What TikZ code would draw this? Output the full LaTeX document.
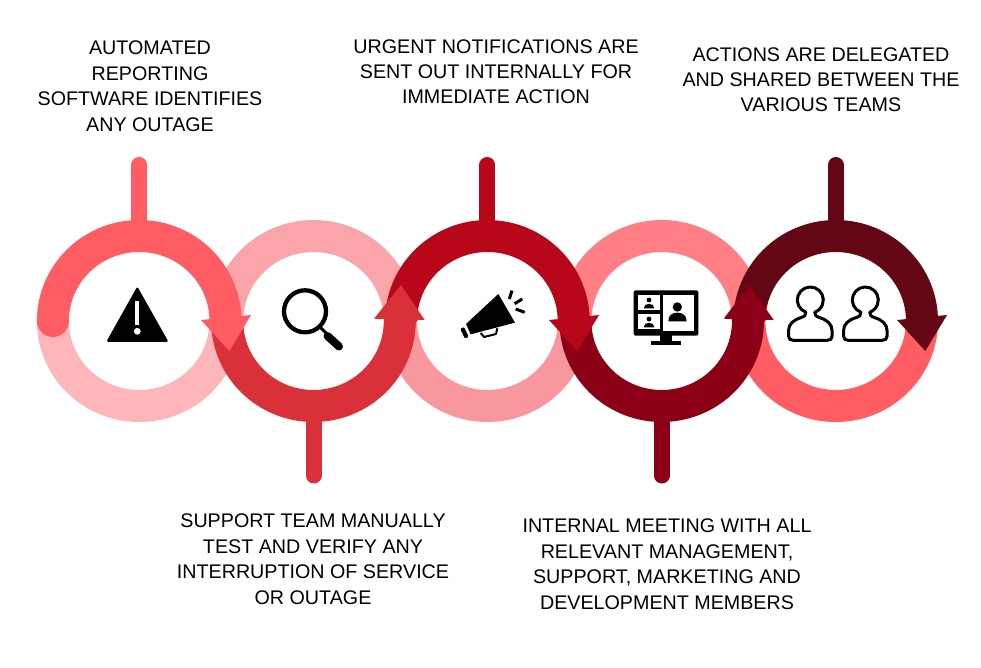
\documentclass[tikz,border=0pt]{standalone}
\usepackage{fontspec}
\setmainfont{Liberation Sans}
\definecolor{aOne}{HTML}{FF5C64}
\definecolor{aTwo}{HTML}{DA303A}
\definecolor{aThree}{HTML}{B9071A}
\definecolor{aFour}{HTML}{8B0015}
\definecolor{aFive}{HTML}{620713}
\definecolor{lOne}{HTML}{FFB6BB}
\definecolor{lTwo}{HTML}{F9A5AA}
\definecolor{lThree}{HTML}{F9979E}
\definecolor{lFour}{HTML}{FF7F85}
\definecolor{lFive}{HTML}{FF5C64}
\tikzset{
  ringarc/.style={line width=32pt,line cap=butt},
  stem/.style={line width=16pt,line cap=round},
  caption/.style={align=center,font=\fontsize{19.7}{25.4}\selectfont,inner sep=0pt,text=black},
  person/.pic={
    \draw[line width=3pt,line join=round] (110:13)
      arc[start angle=110,end angle=430,radius=13]
      .. controls (5,15.5) and (5,16) .. (9,17.5)
      .. controls (17,20) and (21.8,24) .. (21.8,31)
      -- (21.8,36) .. controls (21.8,39) and (20,40.3) .. (17,40.3)
      -- (-17,40.3) .. controls (-20,40.3) and (-21.8,39) .. (-21.8,36)
      -- (-21.8,31) .. controls (-21.8,24) and (-17,20) .. (-9,17.5)
      .. controls (-5,16) and (-5,15.5) .. cycle;
  },
  attendee/.pic={
    \fill (0,0) circle[radius=2.4];
    \fill (-5.3,8.4) .. controls (-5.3,5.4) and (-3,3.8) .. (0,3.8)
       .. controls (3,3.8) and (5.3,5.4) .. (5.3,8.4) -- cycle;
  }
}
\begin{document}
\begin{tikzpicture}[x=1pt,y=1pt,yscale=-1]
\useasboundingbox (0,0) rectangle (981,667);
\fill[white] (0,0) rectangle (981,667);
\coordinate (c1) at (139.2,321);
\coordinate (c2) at (313.5,321);
\coordinate (c3) at (487.4,321);
\coordinate (c4) at (661.7,321);
\coordinate (c5) at (835.7,321);
% stems
\draw[stem,aOne] (139.2,165) -- (139.2,225);
\draw[stem,aTwo] (313.5,417) -- (313.5,475.5);
\draw[stem,aThree] (487.4,165) -- (487.4,225);
\draw[stem,aFour] (661.7,417) -- (661.7,475.5);
\draw[stem,aFive] (835.7,165) -- (835.7,225);
% light half rings
\draw[ringarc,lOne] ([shift={(180:86.3 and 85)}]c1) arc[start angle=180,end angle=0,x radius=86.3,y radius=85];
\draw[ringarc,lTwo] ([shift={(180:86.3 and 85)}]c2) arc[start angle=180,end angle=360,x radius=86.3,y radius=85];
\draw[ringarc,lThree] ([shift={(180:86.3 and 85)}]c3) arc[start angle=180,end angle=0,x radius=86.3,y radius=85];
\draw[ringarc,lFour] ([shift={(180:86.3 and 85)}]c4) arc[start angle=180,end angle=360,x radius=86.3,y radius=85];
\draw[ringarc,lFive] ([shift={(180:86.3 and 85)}]c5) arc[start angle=180,end angle=0,x radius=86.3,y radius=85];
% arrow arcs, last first
\draw[ringarc,aFive] ([shift={(180:86.3 and 85)}]c5) arc[start angle=180,end angle=360,x radius=86.3,y radius=85];
\fill[aFive] (897,320) -- (947,315) -- (925.3,351) -- cycle;
\draw[ringarc,aFour] ([shift={(180:86.3 and 85)}]c4) arc[start angle=180,end angle=-2,x radius=86.3,y radius=85];
\fill[aFour] (723.7,318.7) -- (773.7,320) -- (749.3,285) -- cycle;
\draw[ringarc,aThree] ([shift={(180:86.3 and 85)}]c3) arc[start angle=180,end angle=360,x radius=86.3,y radius=85];
\fill[aThree] (549,320) -- (599,315) -- (577.3,351) -- cycle;
\draw[ringarc,aTwo] ([shift={(180:86.3 and 85)}]c2) arc[start angle=180,end angle=-2,x radius=86.3,y radius=85];
\fill[aTwo] (374,318.7) -- (424.7,320) -- (401,285) -- cycle;
\draw[ringarc,aOne] ([shift={(180:86.3 and 85)}]c1) arc[start angle=180,end angle=360,x radius=86.3,y radius=85];
\fill[aOne] (52.9,321) circle[radius=16];
\fill[aOne] (201,320) -- (251,315) -- (229.3,351) -- cycle;
% warning icon
\fill[black,rounded corners=2pt] (137.3,286.5) -- (168.5,341.8) -- (106.3,341.8) -- cycle;
\fill[white] (135.3,300.7) rectangle (139.3,325);
\fill[white] (137.3,331.3) circle[radius=3.4];
% magnifier icon
\draw[line width=4.3pt] (305,311.3) circle[radius=21];
\draw[line width=3pt] (320,327) -- (328,335);
\draw[line width=8pt,line cap=round] (327.5,336) -- (339,346.5);
% megaphone icon
\begin{scope}[shift={(440,150)},x=0.3333pt,y=0.3333pt]
\fill[black] (175,432) -- (225,518) -- (92,553) -- (78,522) -- cycle;
\fill[black,rounded corners=1pt] (61,537) -- (72,531) -- (86,560) -- (75,566) -- cycle;
\draw[line width=2pt,line join=round] (122,549) -- (132,561) -- (168,552) -- (172,535);
\draw[line width=3pt] (216,422) -- (208,447);
\draw[line width=3pt] (247,447) -- (224,461);
\draw[line width=3pt] (254,487) -- (227,477);
% monitor icon
\fill[black,rounded corners=2pt] (581,421) rectangle (775,557);
\fill[white] (595,436) rectangle (660,481);
\fill[white] (595,492) rectangle (660,537);
\fill[white] (668,436) rectangle (762,543);
\fill[black] (660,555) rectangle (696,575);
\fill[black] (634,574) rectangle (722,586);
\fill[black] (712,471) circle[radius=14];
\fill[black] (685,514) .. controls (685,495) and (697,488) .. (712,488) .. controls (727,488) and (740,495) .. (740,514) -- cycle;
\end{scope}
\pic[yscale=-1] at (649,300) {attendee};
\pic[yscale=-1] at (649,319) {attendee};
% person icons
\pic[yscale=-1] at (810.3,300) {person};
\pic[yscale=-1] at (865.3,300) {person};
% captions
\node[caption] (t1) at (150,86.2) {AUTOMATED\\REPORTING\\SOFTWARE IDENTIFIES\\ANY OUTAGE};
\node[caption] (t2) at (496,71.7) {URGENT NOTIFICATIONS ARE\\SENT OUT INTERNALLY FOR\\IMMEDIATE ACTION};
\node[caption] (t3) at (821,79.7) {ACTIONS ARE DELEGATED\\AND SHARED BETWEEN THE\\VARIOUS TEAMS};
\node[caption] (t4) at (313,559.2) {SUPPORT TEAM MANUALLY\\TEST AND VERIFY ANY\\INTERRUPTION OF SERVICE\\OR OUTAGE};
\node[caption] (t5) at (667,564.2) {INTERNAL MEETING WITH ALL\\RELEVANT MANAGEMENT,\\SUPPORT, MARKETING AND\\DEVELOPMENT MEMBERS};
\end{tikzpicture}
\end{document}
